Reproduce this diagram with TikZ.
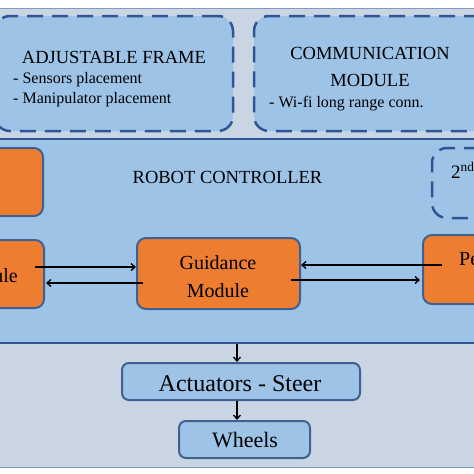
\documentclass[tikz,border=0pt]{standalone}
\usepackage{fontspec}
\setmainfont{Liberation Serif}
\usetikzlibrary{arrows.meta}
\definecolor{bggray}{HTML}{C9D5E3}
\definecolor{lblue}{HTML}{9DC3E6}
\definecolor{dblue}{HTML}{2F5597}
\definecolor{borange}{HTML}{ED7D31}
\definecolor{obord}{HTML}{42608F}
\definecolor{edgeline}{HTML}{7F9CC0}
\begin{document}
\begin{tikzpicture}[x=1pt,y=-1pt,
  dashbox/.style={draw=dblue, fill=lblue, line width=2.5pt, dash pattern=on 16pt off 9pt, rounded corners=15pt, inner sep=0pt},
  orangebox/.style={draw=obord, fill=borange, line width=2pt, rounded corners=9pt, inner sep=0pt},
  bluebox/.style={draw=obord, fill=lblue, line width=2pt, rounded corners=7pt, inner sep=0pt},
  ctrlbox/.style={draw=dblue, fill=lblue, line width=2.5pt, inner sep=0pt},
  txt/.style={inner sep=0pt, text=black},
  arr/.style={-{Straight Barb[length=4pt,width=7pt]}, line width=1.3pt, black}]
\useasboundingbox (0,0) rectangle (474,474);
\clip (0,0) rectangle (474,474);
% background
\fill[bggray] (-5,8) rectangle (480,467);
\draw[edgeline, line width=1pt] (-5,467) -- (480,467);
\draw[edgeline, line width=0.6pt] (-5,8) -- (480,8);
% top frames
\node[dashbox, minimum width=238, minimum height=115] (af) at (114,73.5) {};
\node[dashbox, minimum width=266, minimum height=115] (cm) at (387,73.5) {};
\node[txt, anchor=base, font=\fontsize{18.5pt}{20pt}\selectfont] (aft) at (114,63) {ADJUSTABLE FRAME};
\node[txt, anchor=base west, font=\fontsize{16pt}{18pt}\selectfont] (af1) at (13,83) {- Sensors placement};
\node[txt, anchor=base west, font=\fontsize{16pt}{18pt}\selectfont] (af2) at (13,103) {- Manipulator placement};
\node[txt, anchor=base, font=\fontsize{18.5pt}{20pt}\selectfont] (cmt1) at (370,59) {COMMUNICATION};
\node[txt, anchor=base, font=\fontsize{18.5pt}{20pt}\selectfont] (cmt2) at (370,86) {MODULE};
\node[txt, anchor=base west, font=\fontsize{16pt}{18pt}\selectfont] (cm1) at (269,107) {- Wi-fi long range conn.};
% controller
\node[ctrlbox, minimum width=520, minimum height=204] (ctrl) at (237,241) {};
\node[txt, anchor=base, font=\fontsize{18.5pt}{20pt}\selectfont] (ctrlt) at (227.5,183) {ROBOT CONTROLLER};
\node[orangebox, minimum width=63, minimum height=68] (tl) at (11.5,182) {};
\node[dashbox, minimum width=88, minimum height=70] (rd) at (476,183) {};
\node[txt, anchor=base west, font=\fontsize{19pt}{20pt}\selectfont] (rdt) at (451,178) {2\textsuperscript{nd}};
\node[orangebox, minimum width=64, minimum height=68] (lm) at (12,274) {};
\node[txt, anchor=base east, font=\fontsize{20pt}{22pt}\selectfont] (lmt) at (18,282) {ule};
\node[orangebox, minimum width=163, minimum height=71] (guid) at (218.5,273.5) {};
\node[txt, anchor=base, font=\fontsize{20pt}{22pt}\selectfont] (gt1) at (218,269) {Guidance};
\node[txt, anchor=base, font=\fontsize{20pt}{22pt}\selectfont] (gt2) at (218,297) {Module};
\node[orangebox, minimum width=77, minimum height=69] (pm) at (461.5,269.5) {};
\node[txt, anchor=base west, font=\fontsize{20pt}{22pt}\selectfont] (pmt) at (459,265) {Pe};
% lower boxes
\node[bluebox, minimum width=238, minimum height=37] (act) at (241,381.5) {};
\node[txt, anchor=base, font=\fontsize{24pt}{26pt}\selectfont] (actt) at (240,391) {Actuators - Steer};
\node[bluebox, minimum width=131, minimum height=37] (wh) at (244.5,439.5) {};
\node[txt, anchor=base, font=\fontsize{22pt}{24pt}\selectfont] (wht) at (245,447) {Wheels};
% arrows
\draw[arr] ([xshift=-10pt,yshift=7pt]lm.east) -- ([yshift=6.5pt]guid.west);
\draw[arr] ([xshift=7pt,yshift=-9.5pt]guid.west) -- ([xshift=1pt,yshift=-9pt]lm.east);
\draw[arr] ([xshift=20pt,yshift=4.5pt]pm.west) -- ([yshift=8.5pt]guid.east);
\draw[arr] ([xshift=-10pt,yshift=-6.5pt]guid.east) -- ([xshift=-2pt,yshift=-10.5pt]pm.west);
\draw[arr] ([xshift=-4pt]act.north |- ctrl.south) -- ([xshift=-4pt]act.north);
\draw[arr] ([xshift=-4pt]act.south) -- ([xshift=-4pt]act.south |- wh.north);
\end{tikzpicture}
\end{document}
